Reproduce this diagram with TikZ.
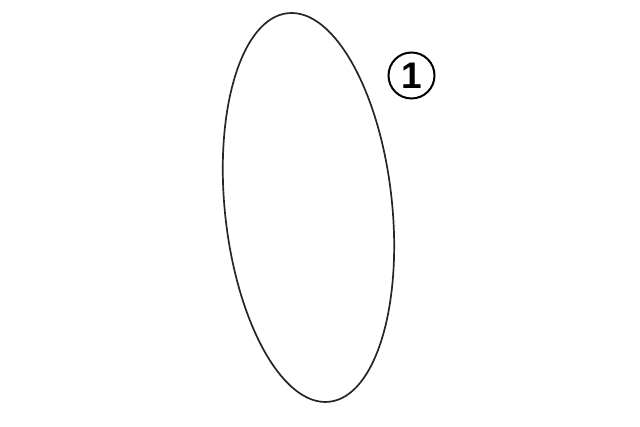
\documentclass[tikz,border=0pt]{standalone}
\usepackage{fontspec}
\setmainfont{Liberation Sans}
\begin{document}
\begin{tikzpicture}[x=1pt,y=-1pt,
  outline/.style={draw=black!85, line width=1.7pt},
  callout/.style={circle, draw=black, line width=2pt, minimum size=46pt, inner sep=0pt, font=\fontsize{37}{37}\selectfont\bfseries}]
\useasboundingbox (0,0) rectangle (640,427);
\coordinate (c) at (308.5,207.5);
\draw[outline, rotate around={6.1:(c)}] (c) ellipse [x radius=83.6pt, y radius=195.4pt];
\node[callout] (n1) at (411.5,75.5) {1};
\end{tikzpicture}
\end{document}
